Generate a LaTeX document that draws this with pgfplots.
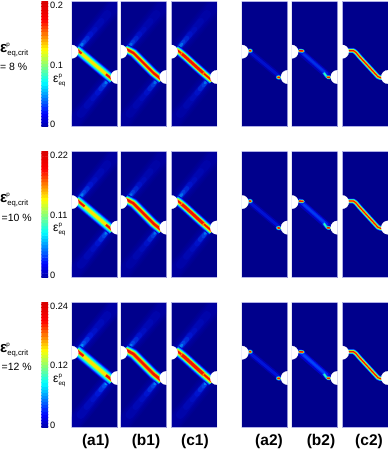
\documentclass[border=0pt]{standalone}
\usepackage{pgfplots}
\usepackage{pgfplotstable}
\pgfplotsset{compat=1.18}
\usepackage{fontspec}
\setmainfont{Liberation Sans}
\definecolor{jbg}{RGB}{0,0,140}
\definecolor{lav}{RGB}{175,175,230}
\definecolor{j0}{RGB}{0,0,205}
\definecolor{j1}{RGB}{0,40,255}
\definecolor{j2}{RGB}{0,120,255}
\definecolor{j3}{RGB}{0,210,255}
\definecolor{j4}{RGB}{40,255,190}
\definecolor{j5}{RGB}{120,255,90}
\definecolor{j6}{RGB}{200,255,30}
\definecolor{j7}{RGB}{255,225,0}
\definecolor{j8}{RGB}{255,130,0}
\definecolor{j9}{RGB}{240,20,0}
\definecolor{j10}{RGB}{175,0,0}
\pgfplotstableread{
x y
0 0
1 0
0 0.025
1 0.025
0 0.05
1 0.05
0 0.075
1 0.075
0 0.1
1 0.1
0 0.125
1 0.125
0 0.15
1 0.15
0 0.175
1 0.175
0 0.2
1 0.2
0 0.225
1 0.225
0 0.25
1 0.25
0 0.275
1 0.275
0 0.3
1 0.3
0 0.325
1 0.325
0 0.35
1 0.35
0 0.375
1 0.375
0 0.4
1 0.4
0 0.425
1 0.425
0 0.45
1 0.45
0 0.475
1 0.475
0 0.5
1 0.5
0 0.525
1 0.525
0 0.55
1 0.55
0 0.575
1 0.575
0 0.6
1 0.6
0 0.625
1 0.625
0 0.65
1 0.65
0 0.675
1 0.675
0 0.7
1 0.7
0 0.725
1 0.725
0 0.75
1 0.75
0 0.775
1 0.775
0 0.8
1 0.8
0 0.825
1 0.825
0 0.85
1 0.85
0 0.875
1 0.875
0 0.9
1 0.9
0 0.925
1 0.925
0 0.95
1 0.95
0 0.975
1 0.975
0 1
1 1
}\cbt
\pgfplotsset{
  colormap={jetr}{rgb(0pt)=(0,0,0.65); rgb(11pt)=(0,0,1); rgb(36pt)=(0,1,1); rgb(62pt)=(1,1,0); rgb(86pt)=(1,0,0); rgb(100pt)=(0.85,0,0)},
  panel/.style={anchor=south west,width=46pt,scale only axis,xmin=0,xmax=46,ymin=0,ymax=125,
    axis lines=none,clip=true,clip marker paths=true,every axis plot/.append style={no markers,line join=round,forget plot}},
  cbar/.style={anchor=south west,width=6.5pt,scale only axis,xmin=0,xmax=1,xtick=\empty,
    ymin=0,ymax=1,
    ytick pos=right,yticklabel pos=right,major tick length=0pt,axis line style={draw=none},
    enlargelimits=false,colormap name=jetr,
    yticklabel style={font=\fontsize{9.2}{9.2}\selectfont,anchor=west,inner sep=0pt,xshift=2pt}}
}
% one layer of a band
\newcommand\strip[3]{\addplot[draw=#1,line width=#2pt] coordinates {#3};}
\newcommand\halo[2]{\strip{j0}{11.5*#1}{#2}\strip{j1}{10*#1}{#2}\strip{j2}{8.8*#1}{#2}\strip{j3}{7.6*#1}{#2}}
\newcommand\midb[2]{\strip{j4}{6.6*#1}{#2}\strip{j5}{5.6*#1}{#2}\strip{j6}{4.6*#1}{#2}\strip{j7}{3.6*#1}{#2}}
\newcommand\midn[2]{\strip{j4}{5.6*#1}{#2}\strip{j5}{4.4*#1}{#2}\strip{j6}{3.3*#1}{#2}\strip{j7}{2.4*#1}{#2}}
\newcommand\hotb[2]{\strip{j8}{2.8*#1}{#2}\strip{j9}{1.9*#1}{#2}}
\newcommand\fa[4]{\addplot[draw=#1,line width=#2pt,opacity=#3,line cap=round] coordinates {#4};}
% faint shear arms at the two notches; #1 = strength
\newcommand\arms[1]{%
  \fa{j0}{17}{0.10*#1}{(6,77)(46,125)}\fa{j0}{14}{0.12*#1}{(6,77)(46,125)}\fa{j0}{11}{0.14*#1}{(6,77)(42,120)}%
  \fa{j1}{8}{0.10*#1}{(6,77)(36,113)}\fa{j1}{6}{0.12*#1}{(6,77)(30,106)}\fa{j1}{4.5}{0.16*#1}{(6,77)(24,98)}%
  \fa{j1}{5.5}{0.22*#1}{(6,77)(19,93)}\fa{j2}{4.5}{0.22*#1}{(6,77)(16,89)}\fa{j2}{3.5}{0.3*#1}{(6,77)(13,86)}\fa{j3}{2.5}{0.4*#1}{(6,77)(11,83)}%
  \fa{j0}{17}{0.10*#1}{(39,50)(0,2)}\fa{j0}{14}{0.12*#1}{(39,50)(0,2)}\fa{j0}{11}{0.14*#1}{(39,50)(3,6)}%
  \fa{j1}{8}{0.10*#1}{(39,50)(9,13)}\fa{j1}{6}{0.12*#1}{(39,50)(15,21)}\fa{j1}{4.5}{0.16*#1}{(39,50)(21,28)}%
  \fa{j1}{5.5}{0.22*#1}{(39,50)(26,34)}\fa{j2}{4.5}{0.22*#1}{(39,50)(29,38)}\fa{j2}{3.5}{0.3*#1}{(39,50)(32,41)}\fa{j3}{2.5}{0.4*#1}{(39,50)(34,44)}%
}
% panels
\newcommand\aone[3]{\arms{#2}\halo{#1}{(5,77.7)(41,47.5)}\midn{#1}{(5,77.7)(41,47.5)}%
  \hotb{#1}{(5,77.7)(#3)}\hotb{#1}{(34.5,52.7)(41,47.5)}}
\newcommand\bone[2]{\arms{#2}%
  \halo{#1}{(5,78)(8,76.7)(13,74)(25,62)(33,54)(41,47.5)}\midb{#1}{(5,78)(8,76.7)(13,74)(25,62)(33,54)(41,47.5)}\hotb{1.3*#1}{(5,78)(8,76.7)(13,74)(25,62)(33,54)(41,47.5)}}
\newcommand\cone[2]{\arms{#2}%
  \halo{#1}{(5,77.5)(8,75.5)(14,70.5)(27,58.7)(34,52.5)(41,46.5)}\midb{#1}{(5,77.5)(8,75.5)(14,70.5)(27,58.7)(34,52.5)(41,46.5)}\hotb{#1}{(5,77.5)(8,75.5)(14,70.5)(27,58.7)(34,52.5)(41,46.5)}%
  \strip{j8}{4.2*#1}{(10,73.7)(14,70.5)(27,58.7)(33,53.3)}\strip{j9}{3.2*#1}{(11,73)(14,70.5)(27,58.7)(32,54.2)}}
\newcommand\spot[3]{\addplot[draw=j2,line width=5*#1pt,line cap=round] coordinates {#2};%
  \addplot[draw=j4,line width=3.8*#1pt,line cap=round] coordinates {#2};%
  \addplot[draw=j7,line width=2.8*#1pt,line cap=round] coordinates {#2};%
  \addplot[draw=#3,line width=1.9*#1pt,line cap=round] coordinates {#2};}
\newcommand\atwo[1]{\fa{j0}{6}{0.6*#1}{(7,76)(39,49.5)}\fa{j1}{3}{0.5*#1}{(7,76)(39,49.5)}%
  \spot{0.85}{(7.8,76.4)(9,76.2)}{j9}\spot{0.85}{(36.3,49.7)(37.8,49.5)}{j9}}
\newcommand\btwo[1]{\fa{j0}{7}{0.8*#1}{(8,76)(37,51)}\fa{j1}{4}{0.7*#1}{(10,75)(35,53)}\fa{j2}{2}{0.35*#1}{(12,73)(33,55)}%
  \strip{j2}{2.8}{(32,54.5)(35,50.5)(39,49.5)}\strip{j4}{1.6}{(32.5,54)(35,50.5)(39,49.5)}%
  \spot{0.75}{(7.8,76.3)(11.5,76)}{j9}\spot{0.75}{(36,49.8)(38.2,49.6)}{j9}}
\newcommand\ctwo{%
  \strip{j0}{5.6}{(5,76.3)(11.5,76.3)(14,74.5)(17.5,70.3)(33.5,53)(36,50.3)(38.5,49.3)(42,49.3)}%
  \strip{j2}{4.6}{(5,76.3)(11.5,76.3)(14,74.5)(17.5,70.3)(33.5,53)(36,50.3)(38.5,49.3)(42,49.3)}%
  \strip{j3}{3.8}{(5,76.3)(11.5,76.3)(14,74.5)(17.5,70.3)(33.5,53)(36,50.3)(38.5,49.3)(42,49.3)}%
  \strip{j5}{3}{(5,76.3)(11.5,76.3)(14,74.5)(17.5,70.3)(33.5,53)(36,50.3)(38.5,49.3)(42,49.3)}%
  \strip{j7}{2.1}{(5,76.3)(11.5,76.3)(14,74.5)(17.5,70.3)(33.5,53)(36,50.3)(38.5,49.3)(42,49.3)}%
  \strip{j9}{1.2}{(5,76.3)(11.5,76.3)(14,74.5)(17.5,70.3)(33.5,53)(36,50.3)(38.5,49.3)(42,49.3)}}
\newcommand\panel[4]{%
  \begin{axis}[panel,at={(#1pt,#2pt)},height=#3pt]
    \addplot[fill=jbg,draw=none] coordinates {(0,0)(46,0)(46,125)(0,125)} -- cycle;
    #4
    \addplot[draw=lav,line width=1pt] coordinates {(0,0)(46,0)(46,125)(0,125)(0,0)};
    \addplot[only marks,mark=*,mark size=6.8pt,mark options={fill=white,draw=white,line width=0.2pt}] coordinates {(0,75.3)(46,50)};
  \end{axis}}
\newcommand\cb[4]{%
  \begin{axis}[cbar,at={(41.5pt,#1pt)},height=#2pt,ytick={#3},yticklabels={#4}]
    \addplot[matrix plot*,shader=flat corner,mesh/cols=2,point meta=y] table {\cbt};
  \end{axis}}
\newcommand\smalltxt{\fontsize{6.2}{6.2}\selectfont}
\newcommand\epsc{{\fontsize{15}{15}\selectfont\bfseries ε}\rlap{\raisebox{6pt}{\smalltxt\kern-1pt p}}\raisebox{-3pt}{\fontsize{7.7}{7.7}\selectfont eq,crit}}
\newcommand\epse{{\fontsize{12}{12}\selectfont ε}\rlap{\raisebox{5pt}{\smalltxt p}}\raisebox{-3pt}{\smalltxt eq}}
\newcommand\txt[3]{\node[anchor=west,inner sep=0pt] at (#1pt,#2pt) {#3};}
\newcommand\blab[2]{\node[inner sep=0pt] at (#1pt,8.5pt) {\fontsize{15.5}{15.5}\selectfont\bfseries #2};}
\begin{document}
\begin{tikzpicture}[x=1pt,y=1pt]
\path[use as bounding box] (0pt,0pt) rectangle (388pt,450pt);
% row 1
\cb{323}{125}{0.024,0.49,0.97}{0,0.1,0.2}
\panel{71.5}{323}{125}{\aone{0.9}{1}{10,73.5}}
\panel{120.5}{323}{125}{\bone{0.85}{0.85}}
\panel{171}{323}{125}{\cone{0.8}{0.9}}
\panel{241.7}{323}{125}{\atwo{0.8}}
\panel{291.5}{323}{125}{\btwo{0.8}}
\panel{342}{323}{125}{\ctwo}
% row 2
\cb{172}{126}{0.024,0.5,0.97}{0,0.11,0.22}
\panel{71.5}{172}{126}{\aone{0.95}{1.05}{13,71}}
\panel{120.5}{172}{126}{\bone{0.92}{0.9}}
\panel{171}{172}{126}{\cone{0.85}{0.95}}
\panel{241.7}{172}{126}{\atwo{0.9}}
\panel{291.5}{172}{126}{\btwo{1}}
\panel{342}{172}{126}{\ctwo}
% row 3
\cb{22}{125}{0.024,0.5,0.97}{0,0.12,0.24}
\panel{71.5}{22}{125}{\aone{1.05}{1.25}{12,72}}
\panel{120.5}{22}{125}{\bone{0.98}{1.05}}
\panel{171}{22}{125}{\cone{0.92}{1.05}}
\panel{241.7}{22}{125}{\atwo{1}}
\panel{291.5}{22}{125}{\btwo{1.2}}
\panel{342}{22}{125}{\ctwo}
% left labels
\txt{0}{400}{\epsc}\txt{0}{383}{\fontsize{10.5}{10.5}\selectfont = 8 \%}
\txt{0}{250}{\epsc}\txt{1.5}{232}{\fontsize{10.5}{10.5}\selectfont =10 \%}
\txt{0}{100}{\epsc}\txt{1.5}{83}{\fontsize{10.5}{10.5}\selectfont =12 \%}
\txt{53}{370}{\epse}
\txt{53}{221}{\epse}
\txt{53}{70}{\epse}
% bottom labels
\blab{95.8}{(a1)}\blab{146}{(b1)}\blab{195}{(c1)}\blab{269}{(a2)}\blab{321}{(b2)}\blab{369}{(c2)}
\end{tikzpicture}
\end{document}
